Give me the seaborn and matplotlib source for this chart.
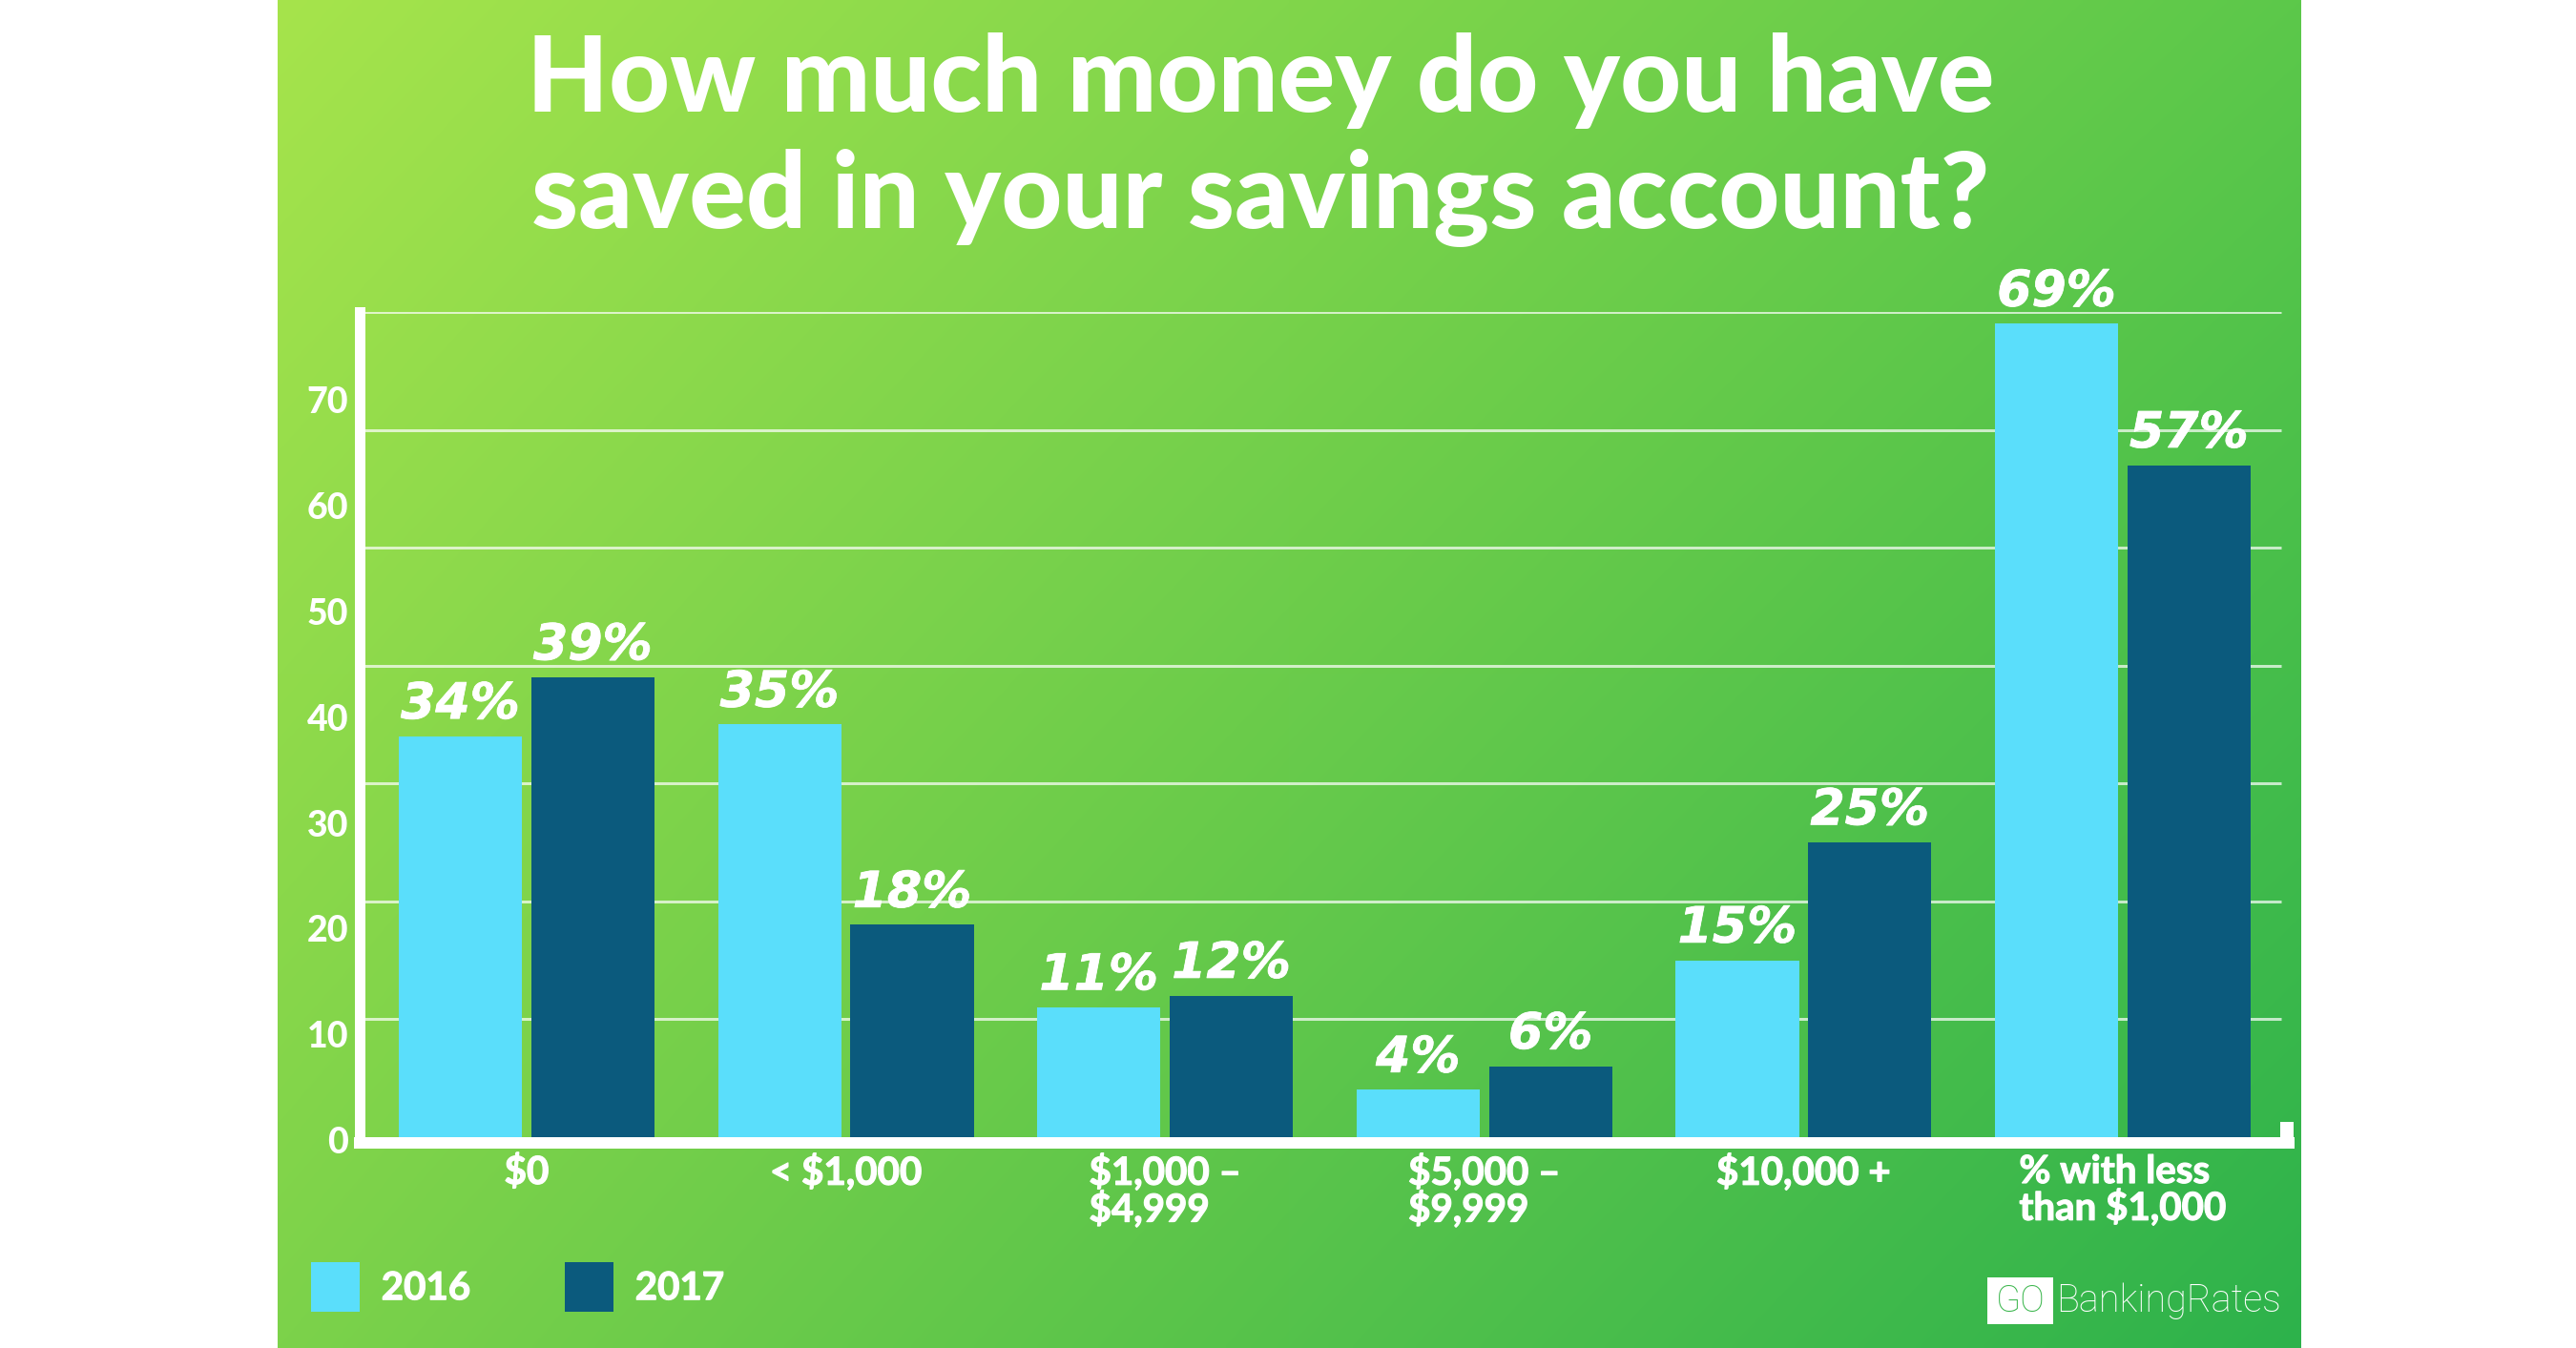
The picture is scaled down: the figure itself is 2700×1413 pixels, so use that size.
import numpy as np
import pandas as pd
import matplotlib
matplotlib.use("Agg")
import matplotlib.pyplot as plt
import matplotlib.patheffects as pe
from matplotlib.patches import Rectangle
from matplotlib.font_manager import FontProperties, fontManager
import seaborn as sns

# ---------------- data ----------------
categories = ["$0", "< $1,000", "$1,000 –\n$4,999", "$5,000 –\n$9,999",
              "$10,000 +", "% with less\nthan $1,000"]
years = ["2016", "2017"]
values_2016 = [34, 35, 11, 4, 15, 69]
values_2017 = [39, 18, 12, 6, 25, 57]
ytick_labels = [0, 10, 20, 30, 40, 50, 60, 70]
grid_values = [10, 20, 30, 40, 50, 60, 70]
title_lines = ["How much money do you have", "saved in your savings account?"]
logo_box_text = "GO"
logo_text = "BankingRates"

# ---------------- style ----------------
plt.rcParams["text.parse_math"] = False
C16, C17 = "#5ADEFB", "#0B5A7D"
W, H, DPI = 2700, 1413, 100
PX = 72 / DPI


def pick_font(prefs, fallback):
    have = {}
    for f in fontManager.ttflist:
        have.setdefault(f.name, set()).add(f.weight if isinstance(f.weight, int) else 400)
    for fam, wmin in prefs:
        ws = have.get(fam, set())
        good = [w for w in ws if w >= wmin]
        if good:
            return fam, max(good)
    return fallback


HEAVY = pick_font([("Lato", 850), ("Source Sans Pro", 850), ("Open Sans", 800),
                   ("Roboto", 850), ("Noto Sans", 850), ("Inter", 850)], ("Lato", 700))
heavy_is_real = HEAVY[1] >= 800


def thick(px):
    return [pe.withStroke(linewidth=px * PX, foreground="white")]


def fx(px):
    return px / W


def fy(py):
    return 1 - py / H


fig = plt.figure(figsize=(W / DPI, H / DPI), dpi=DPI, facecolor="white")

# background gradient panel
pl, pr = 291, 2412
bg = fig.add_axes([fx(pl), 0, fx(pr - pl), 1], zorder=0)
nx, ny = 500, 300
xx, yy = np.meshgrid(np.linspace(0, 1, nx), np.linspace(0, 1, ny))
TL = np.array([166, 228, 76]); TR = np.array([92, 200, 74])
BL = np.array([124, 210, 74]); BR = np.array([45, 178, 76])
xx3, yy3 = xx[..., None], yy[..., None]
img = (TL * (1 - xx3) * (1 - yy3) + TR * xx3 * (1 - yy3)
       + BL * (1 - xx3) * yy3 + BR * xx3 * yy3) / 255.0
bg.imshow(img, aspect="auto", extent=[0, 1, 0, 1], origin="upper",
          interpolation="bilinear")
bg.set_xlim(0, 1); bg.set_ylim(0, 1)
bg.set_axis_off()

# main axes
ax_l, ax_r, ax_b, ax_t = 377, 2399, 1198, 327
ax = fig.add_axes([fx(ax_l), fy(ax_b), fx(ax_r - ax_l), (ax_b - ax_t) / H], zorder=2)
ax.patch.set_alpha(0)

df = pd.DataFrame({
    "category": categories * 2,
    "year": [years[0]] * len(categories) + [years[1]] * len(categories),
    "value": values_2016 + values_2017,
})
sns.barplot(data=df, x="category", y="value", hue="year", hue_order=years,
            palette=[C16, C17], saturation=1, width=0.83, gap=0.07,
            errorbar=None, ax=ax, zorder=3, linewidth=0)

grp0, grp_step = 552, 334.6
ax.set_xlim((ax_l - grp0) / grp_step, (ax_r - grp0) / grp_step)
ax.set_ylim(-0.5, 70)
ax.set_xlabel("")
ax.set_ylabel("")

# gridlines
gfrac = (2391 - ax_l) / (ax_r - ax_l)
ax.hlines(grid_values, 0, gfrac, transform=ax.get_yaxis_transform(),
          colors="white", alpha=0.7, linewidth=3 * PX, zorder=1)

# spines
for s in ["top", "right"]:
    ax.spines[s].set_visible(False)
ax.spines["left"].set_linewidth(11 * PX)
ax.spines["left"].set_color("white")
ax.spines["bottom"].set_linewidth(12 * PX)
ax.spines["bottom"].set_color("white")
ax.spines["left"].set_zorder(4)
ax.spines["bottom"].set_zorder(4)
ax.add_patch(Rectangle((gfrac - 0.0005, -1.0), 0.007, 2.3,
                       transform=ax.get_yaxis_transform(), clip_on=False,
                       facecolor="white", edgecolor="none", zorder=4))

# y ticks (labels drawn at the infographic's own spacing)
ax.set_yticks([v * 0.897 - 0.26 for v in ytick_labels],
              labels=[str(v) for v in ytick_labels])
ax.tick_params(axis="y", length=0, pad=12 * PX, labelcolor="white")
for t in ax.get_yticklabels():
    t.set_fontproperties(FontProperties(family=HEAVY[0], weight=HEAVY[1], size=27))
    if not heavy_is_real:
        t.set_path_effects(thick(1.6))

ax.tick_params(axis="x", length=0, pad=12 * PX, labelcolor="white")
for t in ax.get_xticklabels():
    t.set_fontproperties(FontProperties(family="Lato", weight="bold", size=29))
    t.set_multialignment("left")
    t.set_linespacing(1.0)
    t.set_path_effects(thick(1.2))

# bar value labels
for cont in ax.containers:
    anns = ax.bar_label(cont, labels=[f"{v:.0f}%" for v in cont.datavalues],
                        padding=5.5, color="white",
                        fontproperties=FontProperties(family="DejaVu Sans", weight="bold",
                                                      style="oblique", size=37.5),
                        zorder=5)
    for a in anns:
        a.set_path_effects(thick(0.8))

# legend
handles, labels = ax.get_legend_handles_labels()
if ax.get_legend() is not None:
    ax.get_legend().remove()
leg = fig.legend(handles, labels, loc="center left",
                 bbox_to_anchor=(fx(326), fy(1349)), ncol=2, frameon=False,
                 handlelength=1.27, handleheight=1.6, handletextpad=0.56,
                 columnspacing=2.45, borderpad=0, borderaxespad=0,
                 prop=FontProperties(family="Lato", weight="bold", size=29),
                 labelcolor="white")
for t in leg.get_texts():
    t.set_path_effects(thick(1.2))

# title, fitted to the reference width
titles = []
for line, base in zip(title_lines, [117, 239]):
    titles.append(fig.text(fx(1321), fy(base), line, ha="center", va="baseline",
                           color="white",
                           fontproperties=FontProperties(family=HEAVY[0],
                                                         weight=HEAVY[1], size=72)))
renderer = fig.canvas.get_renderer()
w2 = titles[1].get_window_extent(renderer).width
tsize = min(84, 72 * 1528 / w2)
for t in titles:
    t.set_fontsize(tsize)
    if not heavy_is_real:
        t.set_path_effects(thick(3.2))

# logo
fig.add_artist(Rectangle((fx(2083), fy(1388)), fx(69), 49 / H,
                         transform=fig.transFigure, facecolor="white",
                         edgecolor="none", zorder=5))
fig.text(fx(2117.5), fy(1375), logo_box_text, ha="center", va="baseline",
         color="#38B54A", zorder=6,
         fontproperties=FontProperties(family="Roboto", weight="light", size=27.5))
fig.text(fx(2155), fy(1375), logo_text, ha="left", va="baseline",
         color="white", zorder=6,
         fontproperties=FontProperties(family="Roboto", weight="light", size=28.5))

fig.savefig("out.png", dpi=DPI, facecolor="white")
